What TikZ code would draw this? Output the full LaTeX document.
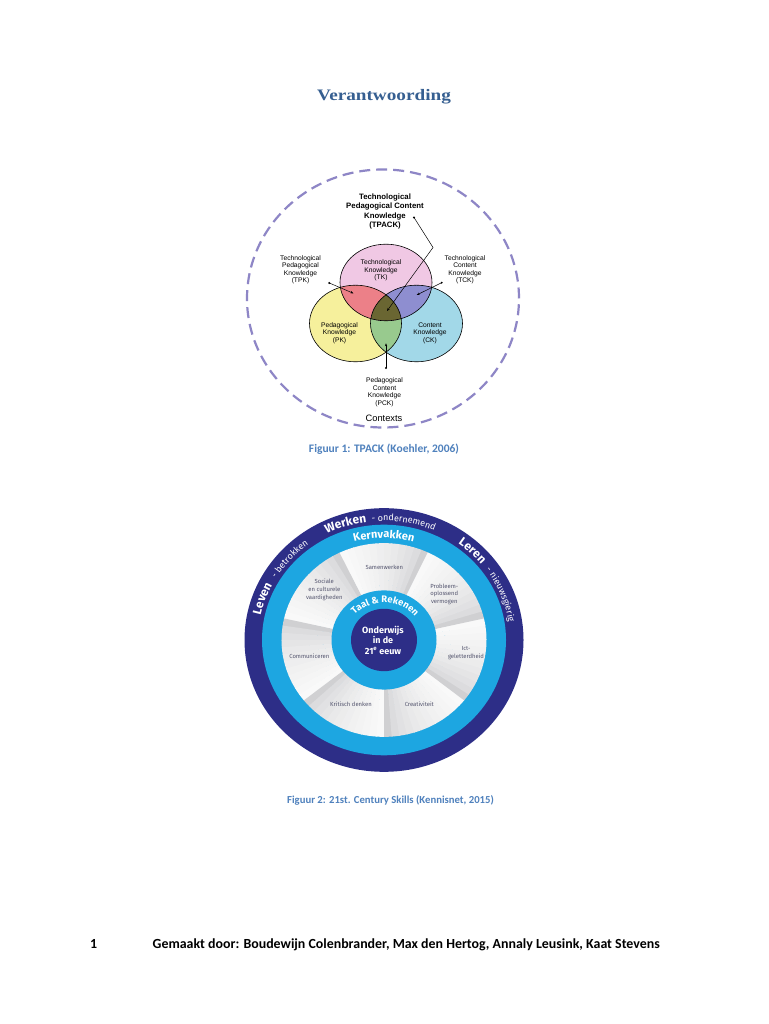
\documentclass[tikz,border=0pt]{standalone}
\usepackage{fontspec}
\setmainfont{Liberation Serif}
\newfontfamily\arialf{Liberation Sans}
\newfontfamily\calib{Carlito}
\newfontfamily\fira{Fira Sans}
\usetikzlibrary{decorations.text,arrows.meta}
\definecolor{titleblue}{HTML}{365F91}
\definecolor{capblue}{HTML}{4F81BD}
\definecolor{ctxc}{HTML}{8E86C6}
\definecolor{tkc}{HTML}{F0C8E4}
\definecolor{pkc}{HTML}{F6F09C}
\definecolor{ckc}{HTML}{A2D8E8}
\definecolor{tpkc}{HTML}{EC8088}
\definecolor{tckc}{HTML}{8E8ED0}
\definecolor{pckc}{HTML}{98CA8E}
\definecolor{tpackc}{HTML}{6A6632}
\definecolor{navy}{HTML}{2D2E87}
\definecolor{lblue}{HTML}{1DA6E1}
\definecolor{secwhite}{HTML}{F9F9F9}
\definecolor{secgray}{HTML}{D0D0D2}
\definecolor{sectext}{HTML}{55566F}
\begin{document}
\begin{tikzpicture}[x=1pt,y=1pt,
  venntxt/.style={font=\arialf\fontsize{6.7}{7.5}\selectfont, align=center, inner sep=0pt},
  leader/.style={line width=0.5pt, -{Stealth[length=3pt,width=2.4pt]}},
  ldot/.style={fill=black},
  captxt/.style={font=\calib\bfseries\fontsize{#1}{12}\selectfont, text=capblue, inner sep=0pt},
  sectxt/.style={font=\fira\fontsize{5.9}{7.8}\selectfont, text=sectext, align=center, inner sep=0pt},
  vennline/.style={draw=black, line width=0.6pt},
  curvetxt/.style={decorate, decoration={text along path, text align=left, text color=white, text={#1}}}]
\fill[white] (0,0) rectangle (768,1024);
\useasboundingbox (0,0) rectangle (768,1024);

% Title
\node[font=\bfseries\fontsize{16}{16}\selectfont, text=titleblue, inner sep=0pt] (title) at (384,927) {\scalebox{1.2}[1]{Verantwoording}};

% ---------- TPACK ----------
\draw[ctxc, line width=2.2pt, dash pattern=on 11pt off 6pt] (383,725.5) ellipse [x radius=136, y radius=129];
\fill[tkc] (386,741.5) ellipse [x radius=46, y radius=38.3];
\fill[pkc] (355.5,700.5) ellipse [x radius=46, y radius=38.3];
\fill[ckc] (416.5,700.5) ellipse [x radius=46, y radius=38.3];
\begin{scope}
  \clip (355.5,700.5) ellipse [x radius=46, y radius=38.3];
  \fill[pckc] (416.5,700.5) ellipse [x radius=46, y radius=38.3];
\end{scope}
\begin{scope}
  \clip (386,741.5) ellipse [x radius=46, y radius=38.3];
  \fill[tpkc] (355.5,700.5) ellipse [x radius=46, y radius=38.3];
  \fill[tckc] (416.5,700.5) ellipse [x radius=46, y radius=38.3];
  \clip (355.5,700.5) ellipse [x radius=46, y radius=38.3];
  \fill[tpackc] (416.5,700.5) ellipse [x radius=46, y radius=38.3];
\end{scope}
\draw[vennline] (386,741.5) ellipse [x radius=46, y radius=38.3];
\draw[vennline] (355.5,700.5) ellipse [x radius=46, y radius=38.3];
\draw[vennline] (416.5,700.5) ellipse [x radius=46, y radius=38.3];

\node[font=\arialf\bfseries\fontsize{7.8}{9.6}\selectfont, align=center, inner sep=0pt] (tpack) at (385,812.5) {Technological\\Pedagogical Content\\Knowledge\\(TPACK)};
\node[venntxt] (tpk) at (300.5,754) {Technological\\Pedagogical\\Knowledge\\(TPK)};
\node[venntxt] (tk) at (381,753.7) {Technological\\Knowledge\\(TK)};
\node[venntxt] (tck) at (465,754) {Technological\\Content\\Knowledge\\(TCK)};
\node[venntxt] (pk) at (339.5,690.9) {Pedagogical\\Knowledge\\(PK)};
\node[venntxt] (ck) at (430,690.9) {Content\\Knowledge\\(CK)};
\node[venntxt] (pck) at (384.5,631.6) {Pedagogical\\Content\\Knowledge\\(PCK)};
\node[font=\arialf\fontsize{9.3}{10}\selectfont, inner sep=0pt] (contexts) at (384,606) {Contexts};

\coordinate (tpackdot) at (414,806.5);
\coordinate (tpackbend) at (433,776.5);
\coordinate (tpackend) at (387,713);
\coordinate (tpkdot) at (329.3,741);
\coordinate (tpkend) at (353.3,730.7);
\coordinate (tckdot) at (441.7,741.3);
\coordinate (tckend) at (416.7,729);
\coordinate (pckdot) at (386,656);
\coordinate (pckend) at (386,680.7);
\draw[leader] (tpackdot) -- (tpackbend) -- (tpackend);
\draw[leader] (tpkdot) -- (tpkend);
\draw[leader] (tckdot) -- (tckend);
\draw[leader] (pckdot) -- (pckend);
\foreach \d in {tpackdot,tpkdot,tckdot,pckdot} \fill[ldot] (\d) circle [radius=1.1];

\node[captxt=11.5] (cap1) at (384,575) {Figuur 1: TPACK (Koehler, 2006)};

% ---------- 21st century wheel ----------
\begin{scope}[shift={(384,384)}, yscale=0.945]
  \fill[navy] (0,0) circle [radius=139.5];
  \fill[lblue] (0,0) circle [radius=122];
  \foreach \k in {0,...,6} {
    \foreach \j in {0,...,11} {
      \pgfmathsetmacro\a{64.2857+51.4286*\k+\j*51.4286/12}
      \pgfmathsetmacro\b{\a+51.4286/12+0.4}
      \pgfmathsetmacro\p{100*sqrt(\j/11)}
      \fill[secwhite!\p!secgray] (0,0) -- (\a:102.5) arc[start angle=\a, end angle=\b, radius=102.5] -- cycle;
    }
  }
  \fill[lblue] (0,0) circle [radius=52.5];
  \fill[navy] (0,0) circle [radius=33];
  % curved texts: bold words
  \begingroup\fira\bfseries\fontsize{12}{12}\selectfont
  \path[curvetxt={Leven}] (168:126) arc[start angle=168, end angle=100, radius=126];
  \path[curvetxt={Werken}] (117:126) arc[start angle=117, end angle=40, radius=126];
  \path[curvetxt={Leren}] (54:126) arc[start angle=54, end angle=-20, radius=126];
  \endgroup
  \begingroup\fira\fontsize{9}{9}\selectfont
  \path[curvetxt={- betrokken}] (149:126) arc[start angle=149, end angle=90, radius=126];
  \path[curvetxt={- ondernemend}] (95.5:126) arc[start angle=95.5, end angle=30, radius=126];
  \path[curvetxt={- nieuwsgierig}] (36:126) arc[start angle=36, end angle=-30, radius=126];
  \endgroup
  \begingroup\fira\bfseries\fontsize{11}{11}\selectfont
  \path[curvetxt={Kernvakken}] (106:108) arc[start angle=106, end angle=40, radius=108];
  \endgroup
  \begingroup\fira\bfseries\fontsize{9.5}{9.5}\selectfont
  \path[curvetxt={Taal {\&} Rekenen}] (138:39.5) arc[start angle=138, end angle=0, radius=39.5];
  \endgroup
\end{scope}

\node[sectxt] (samen) at (384.3,456.3) {Samenwerken};
\node[sectxt] (sociale) at (324.3,433.9) {Sociale\\en culturele\\vaardigheden};
\node[sectxt] (probleem) at (444.3,429.7) {Probleem-\\oplossend\\vermogen};
\node[sectxt] (commun) at (309.3,368) {Communiceren};
\node[sectxt] (ict) at (466,370.7) {Ict-\\geletterdheid};
\node[sectxt] (kritisch) at (351,319.7) {Kritisch denken};
\node[sectxt] (creat) at (419.3,319.7) {Creativiteit};
\node[font=\fira\bfseries\fontsize{9}{10.5}\selectfont, text=white, align=center, inner sep=0pt] (onderwijs) at (383,384) {Onderwijs\\in de\\21\textsuperscript{e} eeuw};

\node[captxt=10.7] (cap2) at (390.5,224) {Figuur 2: 21st. Century Skills (Kennisnet, 2015)};

% Footer
\node[font=\calib\bfseries\fontsize{13.9}{14}\selectfont, anchor=base west, inner sep=0pt] (pagenum) at (90,75.6) {1};
\node[font=\calib\bfseries\fontsize{13.9}{14}\selectfont, anchor=base west, inner sep=0pt] (authors) at (152.5,75.6) {Gemaakt door: Boudewijn Colenbrander, Max den Hertog, Annaly Leusink, Kaat Stevens};
\end{tikzpicture}
\end{document}
